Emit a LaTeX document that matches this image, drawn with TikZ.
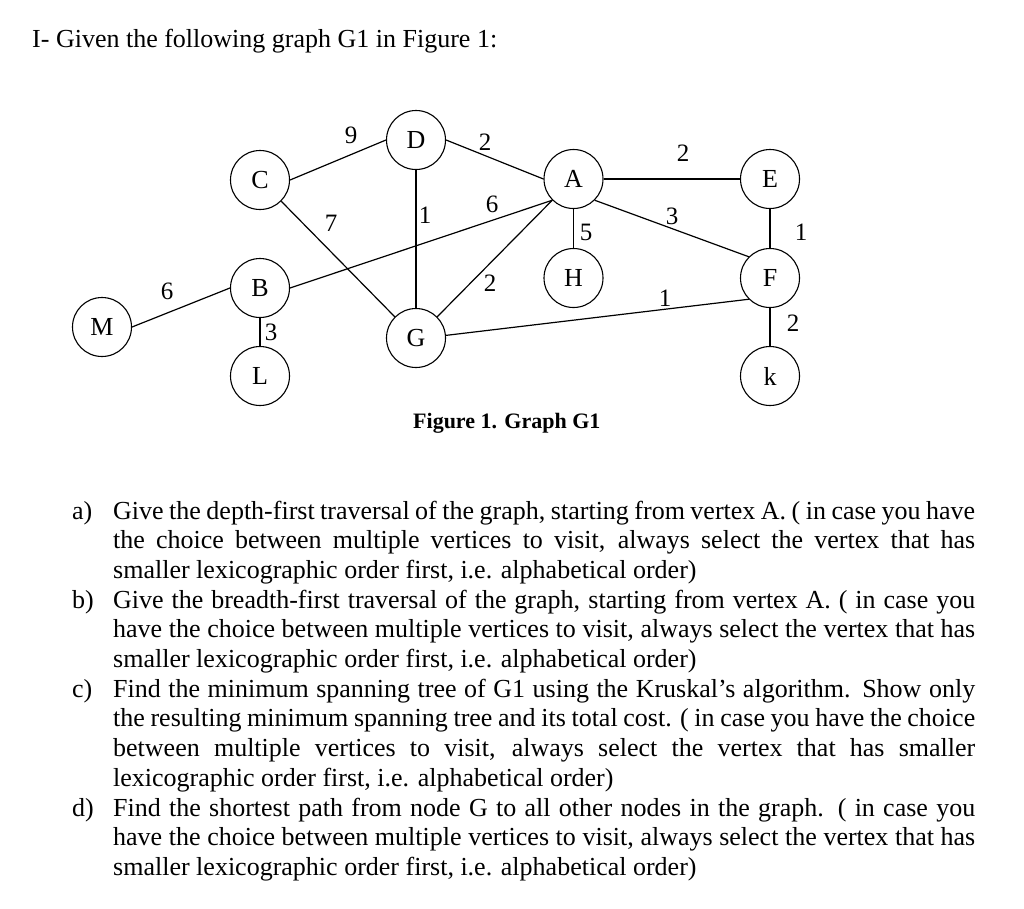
\documentclass[tikz,border=0pt]{standalone}
\usepackage{fontspec}
\setmainfont{Liberation Serif}
\newcommand{\jline}[1]{\makebox[862pt][s]{#1}}
\begin{document}
\begin{tikzpicture}[x=1pt,y=-1pt,
  vtx/.style={circle,draw,line width=1.1pt,minimum size=59pt,inner sep=0pt,font=\fontsize{26}{26}\selectfont},
  edge/.style={line width=1.2pt},
  wt/.style={font=\fontsize{25}{25}\selectfont,inner sep=0pt},
  txt/.style={font=\fontsize{26}{30}\selectfont,anchor=base west,inner sep=0pt},
  figcap/.style={font=\fontsize{22}{22}\selectfont\bfseries,anchor=base west,inner sep=0pt}]
\useasboundingbox (0,0) rectangle (1024,908);
\node[txt] (title) at (32,47) {I- Given the following graph G1 in Figure 1:};
% vertices
\node[vtx] (C) at (260,180) {C};
\node[vtx] (B) at (260,288) {B};
\node[vtx] (M) at (102,327) {M};
\node[vtx] (L) at (260,376) {L};
\node[vtx] (D) at (416,140) {D};
\node[vtx] (A) at (573.5,179) {A};
\node[vtx] (E) at (770,179) {E};
\node[vtx] (H) at (573.5,278) {H};
\node[vtx] (F) at (770,278) {F};
\node[vtx] (G) at (416,338) {G};
\node[vtx] (k) at (770,376) {k};
% edges
\draw[edge] (C.east) -- (D.west);
\draw[edge] (C.south east) -- (G.north west);
\draw[edge] (M.east) -- (B.west);
\draw[edge] (B.south) -- (L.north);
\draw[edge] (B.east) -- (A.south west);
\draw[edge] (D.east) -- (A.west);
\draw[edge] (D.south) -- (G.north);
\draw[edge] (A.south west) -- (G.north east);
\draw[edge] (A.south) -- (H.north);
\draw[edge] (A.east) -- (E.west);
\draw[edge] (A.south east) -- (F.north west);
\draw[edge] (E.south) -- (F.north);
\draw[edge] (G.5) -- (F.south west);
\draw[edge] (F.south) -- (k.north);
% weights
\node[wt] (wCD) at (351,135) {9};
\node[wt] (wCG) at (331,223) {7};
\node[wt] (wMB) at (167,291) {6};
\node[wt] (wBL) at (271,332) {3};
\node[wt] (wDA) at (485,142) {2};
\node[wt] (wAE) at (683,153) {2};
\node[wt] (wBA) at (492,204) {6};
\node[wt] (wDG) at (425,215) {1};
\node[wt] (wAF) at (672,216) {3};
\node[wt] (wAH) at (586,232) {5};
\node[wt] (wEF) at (801,232) {1};
\node[wt] (wAG) at (490,283) {2};
\node[wt] (wGF) at (665,298) {1};
\node[wt] (wFk) at (793,323) {2};
\node[figcap] (caption) at (413,428) {Figure 1. Graph G1};
% questions
\node[txt] (la) at (72,519) {a)};
\node[txt] (a1) at (113,519) {\jline{Give the depth-first traversal of the graph, starting from vertex A. ( in case you have}};
\node[txt] (a2) at (113,548.7) {\jline{the choice between multiple vertices to visit, always select the vertex that has}};
\node[txt] (a3) at (113,578.4) {smaller lexicographic order first, i.e. alphabetical order)};
\node[txt] (lb) at (72,608.1) {b)};
\node[txt] (b1) at (113,608.1) {\jline{Give the breadth-first traversal of the graph, starting from vertex A. ( in case you}};
\node[txt] (b2) at (113,637.8) {\jline{have the choice between multiple vertices to visit, always select the vertex that has}};
\node[txt] (b3) at (113,667.5) {smaller lexicographic order first, i.e. alphabetical order)};
\node[txt] (lc) at (72,697.2) {c)};
\node[txt] (c1) at (113,697.2) {\jline{Find the minimum spanning tree of G1 using the Kruskal’s algorithm. Show only}};
\node[txt] (c2) at (113,726.9) {\jline{the resulting minimum spanning tree and its total cost. ( in case you have the choice}};
\node[txt] (c3) at (113,756.6) {\jline{between multiple vertices to visit, always select the vertex that has smaller}};
\node[txt] (c4) at (113,786.3) {lexicographic order first, i.e. alphabetical order)};
\node[txt] (ld) at (72,816) {d)};
\node[txt] (d1) at (113,816) {\jline{Find the shortest path from node G to all other nodes in the graph. ( in case you}};
\node[txt] (d2) at (113,845.7) {\jline{have the choice between multiple vertices to visit, always select the vertex that has}};
\node[txt] (d3) at (113,875.4) {smaller lexicographic order first, i.e. alphabetical order)};
\end{tikzpicture}
\end{document}
